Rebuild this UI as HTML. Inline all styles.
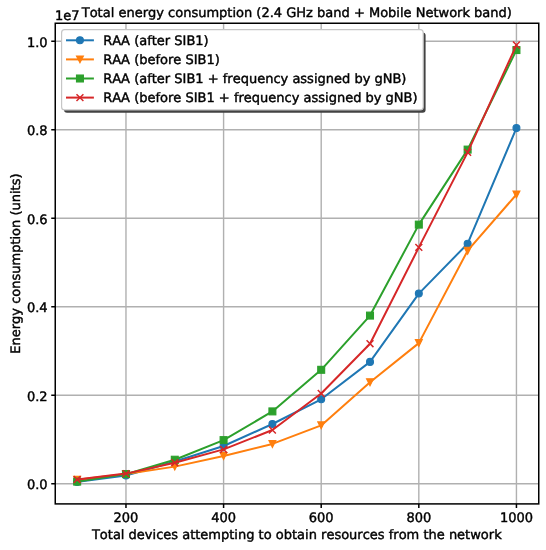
<!DOCTYPE html>
<html><head><meta charset="utf-8"><style>
html,body{margin:0;padding:0;background:#fff;}
svg{display:block;}
text{font-kerning:none;}
</style></head><body>
<svg width="546" height="550" viewBox="0 0 546 550">
<rect width="546" height="550" fill="#fff"/>
<path d="M125.97,23.5V503.8M223.59,23.5V503.8M321.20,23.5V503.8M418.82,23.5V503.8M516.44,23.5V503.8M55.2,483.70H538.4M55.2,395.20H538.4M55.2,306.70H538.4M55.2,218.20H538.4M55.2,129.70H538.4M55.2,41.20H538.4" stroke="#b0b0b0" stroke-width="1.4" fill="none"/>
<defs><clipPath id="ax"><rect x="55.2" y="23.5" width="483.20" height="480.30"/></clipPath></defs>
<g clip-path="url(#ax)">
<polyline points="77.16,481.93 125.97,475.60 174.78,461.57 223.59,446.00 272.40,424.01 321.20,399.32 370.01,361.88 418.82,293.60 467.63,243.69 516.44,128.11" fill="none" stroke="#1f77b4" stroke-width="2.0" stroke-linejoin="round" stroke-linecap="square"/>
<circle cx="77.16" cy="481.93" r="3.45" fill="#1f77b4" stroke="#1f77b4" stroke-width="1.14"/>
<circle cx="125.97" cy="475.60" r="3.45" fill="#1f77b4" stroke="#1f77b4" stroke-width="1.14"/>
<circle cx="174.78" cy="461.57" r="3.45" fill="#1f77b4" stroke="#1f77b4" stroke-width="1.14"/>
<circle cx="223.59" cy="446.00" r="3.45" fill="#1f77b4" stroke="#1f77b4" stroke-width="1.14"/>
<circle cx="272.40" cy="424.01" r="3.45" fill="#1f77b4" stroke="#1f77b4" stroke-width="1.14"/>
<circle cx="321.20" cy="399.32" r="3.45" fill="#1f77b4" stroke="#1f77b4" stroke-width="1.14"/>
<circle cx="370.01" cy="361.88" r="3.45" fill="#1f77b4" stroke="#1f77b4" stroke-width="1.14"/>
<circle cx="418.82" cy="293.60" r="3.45" fill="#1f77b4" stroke="#1f77b4" stroke-width="1.14"/>
<circle cx="467.63" cy="243.69" r="3.45" fill="#1f77b4" stroke="#1f77b4" stroke-width="1.14"/>
<circle cx="516.44" cy="128.11" r="3.45" fill="#1f77b4" stroke="#1f77b4" stroke-width="1.14"/>
<polyline points="77.16,479.81 125.97,473.96 174.78,466.62 223.59,456.09 272.40,443.92 321.20,425.38 370.01,382.28 418.82,343.12 467.63,250.68 516.44,194.48" fill="none" stroke="#ff7f0e" stroke-width="2.0" stroke-linejoin="round" stroke-linecap="square"/>
<path d="M73.71,476.36L80.61,476.36L77.16,483.26Z" fill="#ff7f0e" stroke="#ff7f0e" stroke-width="1.14" stroke-linejoin="miter"/>
<path d="M122.52,470.51L129.42,470.51L125.97,477.41Z" fill="#ff7f0e" stroke="#ff7f0e" stroke-width="1.14" stroke-linejoin="miter"/>
<path d="M171.33,463.17L178.23,463.17L174.78,470.07Z" fill="#ff7f0e" stroke="#ff7f0e" stroke-width="1.14" stroke-linejoin="miter"/>
<path d="M220.14,452.64L227.04,452.64L223.59,459.54Z" fill="#ff7f0e" stroke="#ff7f0e" stroke-width="1.14" stroke-linejoin="miter"/>
<path d="M268.95,440.47L275.85,440.47L272.40,447.37Z" fill="#ff7f0e" stroke="#ff7f0e" stroke-width="1.14" stroke-linejoin="miter"/>
<path d="M317.75,421.93L324.65,421.93L321.20,428.83Z" fill="#ff7f0e" stroke="#ff7f0e" stroke-width="1.14" stroke-linejoin="miter"/>
<path d="M366.56,378.83L373.46,378.83L370.01,385.73Z" fill="#ff7f0e" stroke="#ff7f0e" stroke-width="1.14" stroke-linejoin="miter"/>
<path d="M415.37,339.67L422.27,339.67L418.82,346.57Z" fill="#ff7f0e" stroke="#ff7f0e" stroke-width="1.14" stroke-linejoin="miter"/>
<path d="M464.18,247.23L471.08,247.23L467.63,254.13Z" fill="#ff7f0e" stroke="#ff7f0e" stroke-width="1.14" stroke-linejoin="miter"/>
<path d="M512.99,191.03L519.89,191.03L516.44,197.93Z" fill="#ff7f0e" stroke="#ff7f0e" stroke-width="1.14" stroke-linejoin="miter"/>
<polyline points="77.16,481.62 125.97,474.10 174.78,459.72 223.59,440.11 272.40,411.40 321.20,369.80 370.01,315.59 418.82,224.62 467.63,149.61 516.44,50.05" fill="none" stroke="#2ca02c" stroke-width="2.0" stroke-linejoin="round" stroke-linecap="square"/>
<rect x="73.71" y="478.17" width="6.90" height="6.90" fill="#2ca02c" stroke="#2ca02c" stroke-width="1.14"/>
<rect x="122.52" y="470.65" width="6.90" height="6.90" fill="#2ca02c" stroke="#2ca02c" stroke-width="1.14"/>
<rect x="171.33" y="456.27" width="6.90" height="6.90" fill="#2ca02c" stroke="#2ca02c" stroke-width="1.14"/>
<rect x="220.14" y="436.66" width="6.90" height="6.90" fill="#2ca02c" stroke="#2ca02c" stroke-width="1.14"/>
<rect x="268.95" y="407.95" width="6.90" height="6.90" fill="#2ca02c" stroke="#2ca02c" stroke-width="1.14"/>
<rect x="317.75" y="366.35" width="6.90" height="6.90" fill="#2ca02c" stroke="#2ca02c" stroke-width="1.14"/>
<rect x="366.56" y="312.14" width="6.90" height="6.90" fill="#2ca02c" stroke="#2ca02c" stroke-width="1.14"/>
<rect x="415.37" y="221.17" width="6.90" height="6.90" fill="#2ca02c" stroke="#2ca02c" stroke-width="1.14"/>
<rect x="464.18" y="146.16" width="6.90" height="6.90" fill="#2ca02c" stroke="#2ca02c" stroke-width="1.14"/>
<rect x="512.99" y="46.60" width="6.90" height="6.90" fill="#2ca02c" stroke="#2ca02c" stroke-width="1.14"/>
<polyline points="77.16,479.58 125.97,473.61 174.78,462.68 223.59,449.41 272.40,429.98 321.20,393.52 370.01,343.69 418.82,247.40 467.63,152.40 516.44,45.01" fill="none" stroke="#d62728" stroke-width="2.0" stroke-linejoin="round" stroke-linecap="square"/>
<path d="M73.71,476.13L80.61,483.03M73.71,483.03L80.61,476.13" stroke="#d62728" stroke-width="1.48" fill="none"/>
<path d="M122.52,470.16L129.42,477.06M122.52,477.06L129.42,470.16" stroke="#d62728" stroke-width="1.48" fill="none"/>
<path d="M171.33,459.23L178.23,466.13M171.33,466.13L178.23,459.23" stroke="#d62728" stroke-width="1.48" fill="none"/>
<path d="M220.14,445.96L227.04,452.86M220.14,452.86L227.04,445.96" stroke="#d62728" stroke-width="1.48" fill="none"/>
<path d="M268.95,426.53L275.85,433.43M268.95,433.43L275.85,426.53" stroke="#d62728" stroke-width="1.48" fill="none"/>
<path d="M317.75,390.07L324.65,396.97M317.75,396.97L324.65,390.07" stroke="#d62728" stroke-width="1.48" fill="none"/>
<path d="M366.56,340.24L373.46,347.14M366.56,347.14L373.46,340.24" stroke="#d62728" stroke-width="1.48" fill="none"/>
<path d="M415.37,243.95L422.27,250.85M415.37,250.85L422.27,243.95" stroke="#d62728" stroke-width="1.48" fill="none"/>
<path d="M464.18,148.95L471.08,155.85M464.18,155.85L471.08,148.95" stroke="#d62728" stroke-width="1.48" fill="none"/>
<path d="M512.99,41.56L519.89,48.46M512.99,48.46L519.89,41.56" stroke="#d62728" stroke-width="1.48" fill="none"/>
</g>
<rect x="55.25" y="23.25" width="483.50" height="480.65" fill="none" stroke="#000" stroke-width="1.5" stroke-linejoin="miter"/>
<path d="M125.97,503.9v4.0M223.59,503.9v4.0M321.20,503.9v4.0M418.82,503.9v4.0M516.44,503.9v4.0M55.25,483.70h-4.0M55.25,395.20h-4.0M55.25,306.70h-4.0M55.25,218.20h-4.0M55.25,129.70h-4.0M55.25,41.20h-4.0" stroke="#000" stroke-width="1.5" fill="none"/>
<text x="125.97" y="521.8" text-anchor="middle" font-family="DejaVu Sans, Liberation Sans, sans-serif" font-size="13" stroke="#000" stroke-width="0.42" text-rendering="geometricPrecision">200</text>
<text x="223.59" y="521.8" text-anchor="middle" font-family="DejaVu Sans, Liberation Sans, sans-serif" font-size="13" stroke="#000" stroke-width="0.42" text-rendering="geometricPrecision">400</text>
<text x="321.20" y="521.8" text-anchor="middle" font-family="DejaVu Sans, Liberation Sans, sans-serif" font-size="13" stroke="#000" stroke-width="0.42" text-rendering="geometricPrecision">600</text>
<text x="418.82" y="521.8" text-anchor="middle" font-family="DejaVu Sans, Liberation Sans, sans-serif" font-size="13" stroke="#000" stroke-width="0.42" text-rendering="geometricPrecision">800</text>
<text x="516.44" y="521.8" text-anchor="middle" font-family="DejaVu Sans, Liberation Sans, sans-serif" font-size="13" stroke="#000" stroke-width="0.42" text-rendering="geometricPrecision">1000</text>
<text x="47.6" y="489.10" text-anchor="end" font-family="DejaVu Sans, Liberation Sans, sans-serif" font-size="13" stroke="#000" stroke-width="0.42" text-rendering="geometricPrecision">0.0</text>
<text x="47.6" y="400.60" text-anchor="end" font-family="DejaVu Sans, Liberation Sans, sans-serif" font-size="13" stroke="#000" stroke-width="0.42" text-rendering="geometricPrecision">0.2</text>
<text x="47.6" y="312.10" text-anchor="end" font-family="DejaVu Sans, Liberation Sans, sans-serif" font-size="13" stroke="#000" stroke-width="0.42" text-rendering="geometricPrecision">0.4</text>
<text x="47.6" y="223.60" text-anchor="end" font-family="DejaVu Sans, Liberation Sans, sans-serif" font-size="13" stroke="#000" stroke-width="0.42" text-rendering="geometricPrecision">0.6</text>
<text x="47.6" y="135.10" text-anchor="end" font-family="DejaVu Sans, Liberation Sans, sans-serif" font-size="13" stroke="#000" stroke-width="0.42" text-rendering="geometricPrecision">0.8</text>
<text x="47.6" y="46.60" text-anchor="end" font-family="DejaVu Sans, Liberation Sans, sans-serif" font-size="13" stroke="#000" stroke-width="0.42" text-rendering="geometricPrecision">1.0</text>
<text x="55.0" y="19.9" font-family="DejaVu Sans, Liberation Sans, sans-serif" font-size="13" stroke="#000" stroke-width="0.42" text-rendering="geometricPrecision">1e7</text>
<text x="296.8" y="16.7" text-anchor="middle" font-family="DejaVu Sans, Liberation Sans, sans-serif" font-size="13" stroke="#000" stroke-width="0.42" text-rendering="geometricPrecision">Total energy consumption (2.4 GHz band + Mobile Network band)</text>
<text x="296.8" y="538.7" text-anchor="middle" font-family="DejaVu Sans, Liberation Sans, sans-serif" font-size="13" stroke="#000" stroke-width="0.42" text-rendering="geometricPrecision">Total devices attempting to obtain resources from the network</text>
<text transform="translate(19.7,263.6) rotate(-90)" x="0" y="0" text-anchor="middle" font-family="DejaVu Sans, Liberation Sans, sans-serif" font-size="13" stroke="#000" stroke-width="0.42" text-rendering="geometricPrecision">Energy consumption (units)</text>
<rect x="64.00" y="32.50" width="361.60" height="80.25" rx="3.0" fill="#424242"/>
<rect x="61.60" y="29.70" width="361.60" height="80.25" rx="3.0" fill="#fff" stroke="#c6c6c6" stroke-width="1.2"/>
<path d="M66,40.3H93.9" stroke="#1f77b4" stroke-width="2.0" fill="none"/>
<circle cx="79.95" cy="40.30" r="3.45" fill="#1f77b4" stroke="#1f77b4" stroke-width="1.14"/>
<text x="103.2" y="44.60" font-family="DejaVu Sans, Liberation Sans, sans-serif" font-size="13" stroke="#000" stroke-width="0.42" text-rendering="geometricPrecision">RAA (after SIB1)</text>
<path d="M66,59.4H93.9" stroke="#ff7f0e" stroke-width="2.0" fill="none"/>
<path d="M76.50,55.95L83.40,55.95L79.95,62.85Z" fill="#ff7f0e" stroke="#ff7f0e" stroke-width="1.14" stroke-linejoin="miter"/>
<text x="103.2" y="63.70" font-family="DejaVu Sans, Liberation Sans, sans-serif" font-size="13" stroke="#000" stroke-width="0.42" text-rendering="geometricPrecision">RAA (before SIB1)</text>
<path d="M66,78.5H93.9" stroke="#2ca02c" stroke-width="2.0" fill="none"/>
<rect x="76.50" y="75.05" width="6.90" height="6.90" fill="#2ca02c" stroke="#2ca02c" stroke-width="1.14"/>
<text x="103.2" y="82.80" font-family="DejaVu Sans, Liberation Sans, sans-serif" font-size="13" stroke="#000" stroke-width="0.42" text-rendering="geometricPrecision">RAA (after SIB1 + frequency assigned by gNB)</text>
<path d="M66,97.6H93.9" stroke="#d62728" stroke-width="2.0" fill="none"/>
<path d="M76.50,94.15L83.40,101.05M76.50,101.05L83.40,94.15" stroke="#d62728" stroke-width="1.48" fill="none"/>
<text x="103.2" y="101.90" font-family="DejaVu Sans, Liberation Sans, sans-serif" font-size="13" stroke="#000" stroke-width="0.42" text-rendering="geometricPrecision">RAA (before SIB1 + frequency assigned by gNB)</text>
</svg>
</body></html>
